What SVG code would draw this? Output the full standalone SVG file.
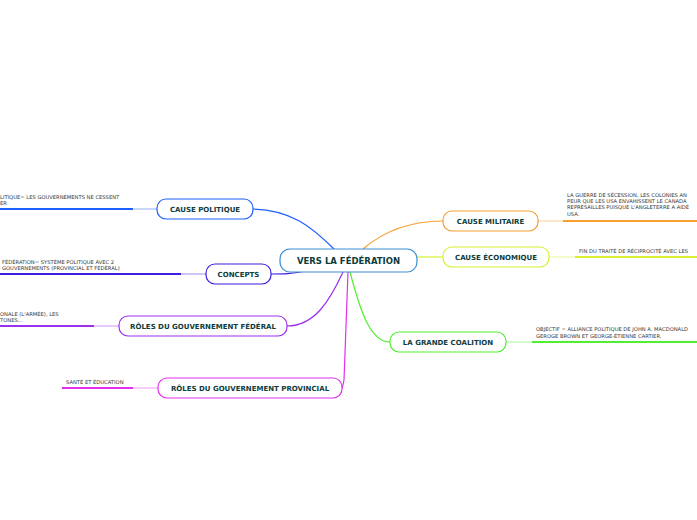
<svg xmlns="http://www.w3.org/2000/svg" width="697" height="520" viewBox="0 0 697 520">
<style>
.n{fill:#fff;stroke-width:1.2}
.t{font-family:"DejaVu Sans",Verdana,sans-serif;font-weight:bold;font-size:7px;fill:#0d3b3b;text-anchor:middle}
.s{font-family:"DejaVu Sans",Verdana,sans-serif;font-size:5.2px;fill:#333}
.c{fill:none;stroke-width:1.2}
.th{stroke-width:2;fill:none}
.tn{stroke-width:1;fill:none;opacity:.5}
</style>
<rect width="697" height="520" fill="#fff"/>
<g id="connectors">
<path class="c" stroke="#1f5fff" d="M335,250 C310,225 290,210 253,209"/>
<path class="c" stroke="#3a1fe0" d="M305,271 C290,274 285,274 271,274"/>
<path class="c" stroke="#9b2ff0" d="M343,272 C330,300 315,326 287,326"/>
<path class="c" stroke="#e02ff0" d="M348,272 L344,380 C343,386 342,388 342,388"/>
<path class="c" stroke="#f7a030" d="M363,249 C385,230 410,221 443,221"/>
<path class="c" stroke="#d8f030" d="M417,257 L443,257"/>
<path class="c" stroke="#50f030" d="M350,272 C360,310 370,342 390,342"/>
<path class="tn" stroke="#1f5fff" d="M157,209 L133,209"/><path class="th" stroke="#1f5fff" d="M0,209 L133,209"/>
<path class="tn" stroke="#3a1fe0" d="M206,274 L181,274"/><path class="th" stroke="#3a1fe0" d="M0,274 L181,274"/>
<path class="tn" stroke="#9b2ff0" d="M119,326 L94,326"/><path class="th" stroke="#9b2ff0" d="M0,326 L94,326"/>
<path class="tn" stroke="#e02ff0" d="M158,388 L133,388"/><path class="th" stroke="#e02ff0" d="M62,388 L133,388"/>
<path class="tn" stroke="#f7a030" d="M538,221 L563,221"/><path class="th" stroke="#f7a030" d="M563,221 L697,221"/>
<path class="tn" stroke="#d8f030" d="M549,257 L575,257"/><path class="th" stroke="#d8f030" d="M575,257 L697,257"/>
<path class="tn" stroke="#50f030" d="M506,342 L532,342"/><path class="th" stroke="#50f030" d="M532,342 L697,342"/>
</g>
<g id="center"><rect class="n" stroke="#3a8fd6" x="280" y="249" width="137" height="23" rx="10"/><text class="t" style="font-size:8.5px" x="348.5" y="264">VERS LA FÉDÉRATION</text></g>
<g id="politique"><rect class="n" stroke="#1f5fff" x="157" y="199" width="96" height="20" rx="9"/><text class="t" x="205" y="212">CAUSE POLITIQUE</text>
<text class="s" x="0" y="199">LITIQUE= LES GOUVERNEMENTS NE CESSENT</text><text class="s" x="0" y="205">ER</text></g>
<g id="concepts"><rect class="n" stroke="#3a1fe0" x="206" y="264" width="65" height="20" rx="9"/><text class="t" x="238.5" y="277">CONCEPTS</text>
<text class="s" x="2" y="264">FÉDÉRATION= SYSTÈME POLITIQUE AVEC 2</text><text class="s" x="2" y="270">GOUVERNEMENTS (PROVINCIAL ET FÉDÉRAL)</text></g>
<g id="federal"><rect class="n" stroke="#9b2ff0" x="119" y="316" width="168" height="20" rx="9"/><text class="t" x="203" y="329">RÔLES DU GOUVERNEMENT FÉDÉRAL</text>
<text class="s" x="0" y="316">ONALE (L'ARMÉE), LES</text><text class="s" x="0" y="322">TONES...</text></g>
<g id="provincial"><rect class="n" stroke="#e02ff0" x="158" y="378" width="184" height="20" rx="9"/><text class="t" x="250" y="391">RÔLES DU GOUVERNEMENT PROVINCIAL</text>
<text class="s" x="66" y="384">SANTÉ ET ÉDUCATION</text></g>
<g id="militaire"><rect class="n" stroke="#f7a030" x="443" y="211" width="95" height="20" rx="9"/><text class="t" x="490.5" y="224">CAUSE MILITAIRE</text>
<text class="s" x="567" y="197">LA GUERRE DE SÉCESSION, LES COLONIES AN</text><text class="s" x="567" y="203">PEUR QUE LES USA ENVAHISSENT LE CANADA</text><text class="s" x="567" y="209">REPRÉSAILLES PUISQUE L'ANGLETERRE A AIDÉ</text><text class="s" x="567" y="216">USA.</text></g>
<g id="economique"><rect class="n" stroke="#d8f030" x="443" y="247" width="106" height="20" rx="9"/><text class="t" x="496" y="260">CAUSE ÉCONOMIQUE</text>
<text class="s" x="579" y="253">FIN DU TRAITÉ DE RÉCIPROCITÉ AVEC LES</text></g>
<g id="coalition"><rect class="n" stroke="#50f030" x="390" y="332" width="116" height="20" rx="9"/><text class="t" x="448" y="345">LA GRANDE COALITION</text>
<text class="s" x="536" y="331">OBJECTIF = ALLIANCE POLITIQUE DE JOHN A. MACDONALD</text><text class="s" x="536" y="338">GEROGE BROWN ET GEORGE-ÉTIENNE CARTIER.</text></g>
</svg>
